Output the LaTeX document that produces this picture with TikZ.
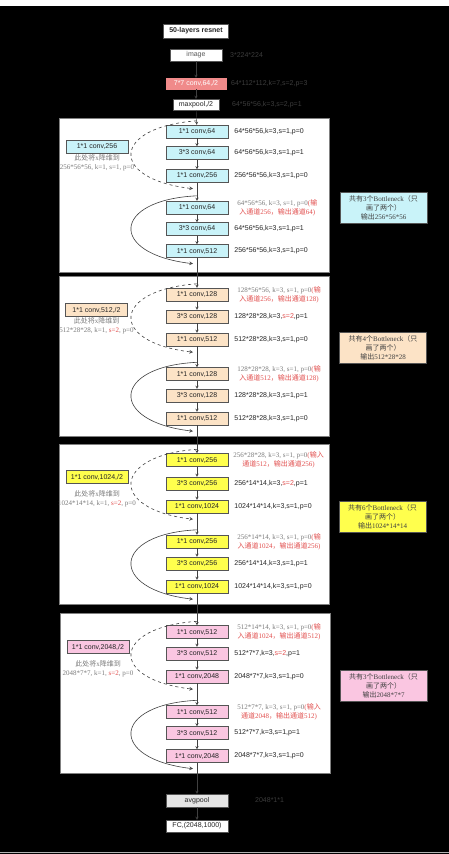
\documentclass[tikz,border=0pt]{standalone}
\usepackage{fontspec}
\setmainfont{Liberation Sans}
\newfontfamily\zhfont{Noto Sans CJK SC}
\newfontfamily\numfont{Liberation Serif}
\newcommand{\zh}[1]{{\zhfont #1}}
\newcommand{\rd}[1]{\textcolor{notered}{#1}}
\usetikzlibrary{positioning, arrows}
\definecolor{cyanfill}{HTML}{C9F3F9}
\definecolor{peachfill}{HTML}{FCE3C6}
\definecolor{yellowfill}{HTML}{FFFF4D}
\definecolor{pinkfill}{HTML}{FAC6E1}
\definecolor{convred}{HTML}{F08A8A}
\definecolor{notered}{HTML}{E2504F}
\definecolor{notegray}{HTML}{7C7C7C}
\definecolor{dimtext}{HTML}{3C3C3C}
\definecolor{framegray}{HTML}{555555}
\tikzset{
    layer/.style={draw=framegray, fill=white, minimum width=62pt, minimum height=13pt, inner sep=1pt, text=black!85, font=\fontsize{7}{8}\selectfont},
    info/.style={inner sep=0pt, text=black!85, font=\fontsize{7}{8}\selectfont},
    darkinfo/.style={info, anchor=west, text=dimtext},
    note/.style={inner sep=0pt, align=center, text=notegray, font={\numfont\fontsize{7}{9}\selectfont}},
    sumbox/.style={draw=framegray, minimum width=87pt, minimum height=31pt, inner sep=1pt, align=center, text=black!75, font={\numfont\fontsize{7}{9}\selectfont}},
    panel/.style={draw=gray, fill=white},
    skip/.style={draw=black!75, line width=0.6pt},
}
\begin{document}
\begin{tikzpicture}[x=1pt,y=1pt,>=stealth,node distance=6pt]
    \useasboundingbox (0,0) rectangle (449,-854);
    \fill[black] (0,0) rectangle (449,-854);
    \fill[white] (0,0) rectangle (449,-6);
    \draw[gray!60] (0,-852.5) -- (449,-852.5);
    % stem
    \node[layer, font=\fontsize{7}{8}\selectfont\bfseries, minimum width=65pt, minimum height=14pt] (title) at (196,-31) {50-layers resnet};
    \node[layer, minimum width=52pt, minimum height=12pt, text=black!65] (img) at (196,-55) {image};
    \node[layer, fill=convred, draw=convred, minimum width=60pt, minimum height=11pt, text=white] (conv1) at (196,-83.5) {7*7 conv,64,/2};
    \node[layer, minimum width=46pt, minimum height=11pt] (pool) at (196,-104.5) {maxpool,/2};
    \node[darkinfo] at (230,-55) {3*224*224};
    \node[darkinfo] at (231,-83.5) {64*112*112,k=7,s=2,p=3};
    \node[darkinfo] at (232,-104.5) {64*56*56,k=3,s=2,p=1};
    % panels
    \draw[panel] (59,-118) rectangle (329,-272);
    \draw[panel] (59,-276) rectangle (329,-436);
    \draw[panel] (59,-444) rectangle (329,-604);
    \draw[panel] (60,-613) rectangle (330,-773);
    % conv2_x
    \node[layer, fill=cyanfill] (b11) at (197,-131.5) {1*1 conv,64};
    \node[layer, fill=cyanfill] (b12) at (197,-153) {3*3 conv,64};
    \node[layer, fill=cyanfill] (b13) at (197,-176) {1*1 conv,256};
    \node[layer, fill=cyanfill] (b14) at (197,-207.5) {1*1 conv,64};
    \node[layer, fill=cyanfill] (b15) at (197,-229) {3*3 conv,64};
    \node[layer, fill=cyanfill] (b16) at (197,-251) {1*1 conv,512};
    \node[info, right=of b11] {64*56*56,k=3,s=1,p=0};
    \node[info, right=of b12] {64*56*56,k=3,s=1,p=1};
    \node[info, right=of b13] {256*56*56,k=3,s=1,p=0};
    \node[note, right=9pt of b14] {64*56*56, k=3, s=1, p=0\rd{(\zh{输}}\\\rd{\zh{入通道}256\zh{，输出通道}64)}};
    \node[info, right=of b15] {64*56*56,k=3,s=1,p=1};
    \node[info, right=of b16] {256*56*56,k=3,s=1,p=0};
    \node[layer, fill=cyanfill] (ds1) at (97,-146.5) {1*1 conv,256};
    \node[note, below=1pt of ds1] {\zh{此处将}x\zh{降维到}\\256*56*56, k=1, s=1, p=0};
    \node[sumbox, fill=cyanfill] (sum1) at (383.5,-207.5) {\zh{共有}3\zh{个}Bottleneck\zh{（只}\\\zh{画了两个）}\\\zh{输出}256*56*56};
    % conv3_x
    \node[layer, fill=peachfill] (b21) at (197,-294.5) {1*1 conv,128};
    \node[layer, fill=peachfill] (b22) at (197,-316.5) {3*3 conv,128};
    \node[layer, fill=peachfill] (b23) at (197,-339.5) {1*1 conv,512};
    \node[layer, fill=peachfill] (b24) at (197,-374) {1*1 conv,128};
    \node[layer, fill=peachfill] (b25) at (197,-395.5) {3*3 conv,128};
    \node[layer, fill=peachfill] (b26) at (197,-418.5) {1*1 conv,512};
    \node[note, right=9pt of b21] {128*56*56, k=3, s=1, p=0\rd{(\zh{输}}\\\rd{\zh{入通道}256\zh{，输出通道}128)}};
    \node[info, right=of b22] {128*28*28,k=3,\rd{s=2},p=1};
    \node[info, right=of b23] {512*28*28,k=3,s=1,p=0};
    \node[note, right=9pt of b24] {128*28*28, k=3, s=1, p=0\rd{(\zh{输}}\\\rd{\zh{入通道}512\zh{，输出通道}128)}};
    \node[info, right=of b25] {128*28*28,k=3,s=1,p=1};
    \node[info, right=of b26] {512*28*28,k=3,s=1,p=0};
    \node[layer, fill=peachfill] (ds2) at (96.5,-310) {1*1 conv,512,/2};
    \node[note, below=1pt of ds2] {\zh{此处将}x\zh{降维到}\\512*28*28, k=1, \rd{s=2}, p=0};
    \node[sumbox, fill=peachfill] (sum2) at (383,-348) {\zh{共有}4\zh{个}Bottleneck\zh{（只}\\\zh{画了两个）}\\\zh{输出}512*28*28};
    % conv4_x
    \node[layer, fill=yellowfill] (b31) at (197,-460) {1*1 conv,256};
    \node[layer, fill=yellowfill] (b32) at (197,-483.5) {3*3 conv,256};
    \node[layer, fill=yellowfill] (b33) at (197,-506.5) {1*1 conv,1024};
    \node[layer, fill=yellowfill] (b34) at (197,-541.5) {1*1 conv,256};
    \node[layer, fill=yellowfill] (b35) at (197,-563.5) {3*3 conv,256};
    \node[layer, fill=yellowfill] (b36) at (197,-586.5) {1*1 conv,1024};
    \node[note, right=5pt of b31] {256*28*28, k=3, s=1, p=0\rd{(\zh{输入}}\\\rd{\zh{通道}512\zh{，输出通道}256)}};
    \node[info, right=of b32] {256*14*14,k=3,\rd{s=2},p=1};
    \node[info, right=of b33] {1024*14*14,k=3,s=1,p=0};
    \node[note, right=9pt of b34] {256*14*14, k=3, s=1, p=0\rd{(\zh{输}}\\\rd{\zh{入通道}1024\zh{，输出通道}256)}};
    \node[info, right=of b35] {256*14*14,k=3,s=1,p=1};
    \node[info, right=of b36] {1024*14*14,k=3,s=1,p=0};
    \node[layer, fill=yellowfill] (ds3) at (97,-477) {1*1 conv,1024,/2};
    \node[note, below=7pt of ds3] {\zh{此处将}x\zh{降维到}\\1024*14*14, k=1, \rd{s=2}, p=0};
    \node[sumbox, fill=yellowfill] (sum3) at (382.5,-516.5) {\zh{共有}6\zh{个}Bottleneck\zh{（只}\\\zh{画了两个）}\\\zh{输出}1024*14*14};
    % conv5_x
    \node[layer, fill=pinkfill] (b41) at (197,-632) {1*1 conv,512};
    \node[layer, fill=pinkfill] (b42) at (197,-653.5) {3*3 conv,512};
    \node[layer, fill=pinkfill] (b43) at (197,-676.5) {1*1 conv,2048};
    \node[layer, fill=pinkfill] (b44) at (197,-712) {1*1 conv,512};
    \node[layer, fill=pinkfill] (b45) at (197,-733) {3*3 conv,512};
    \node[layer, fill=pinkfill] (b46) at (197,-756) {1*1 conv,2048};
    \node[note, right=9pt of b41] {512*14*14, k=3, s=1, p=0\rd{(\zh{输}}\\\rd{\zh{入通道}1024\zh{，输出通道}512)}};
    \node[info, right=of b42] {512*7*7,k=3,\rd{s=2},p=1};
    \node[info, right=of b43] {2048*7*7,k=3,s=1,p=0};
    \node[note, right=9pt of b44] {512*7*7, k=3, s=1, p=0\rd{(\zh{输入}}\\\rd{\zh{通道}2048\zh{，输出通道}512)}};
    \node[info, right=of b45] {512*7*7,k=3,s=1,p=1};
    \node[info, right=of b46] {2048*7*7,k=3,s=1,p=0};
    \node[layer, fill=pinkfill] (ds4) at (98,-647) {1*1 conv,2048,/2};
    \node[note, below=7pt of ds4] {\zh{此处将}x\zh{降维到}\\2048*7*7, k=1, \rd{s=2}, p=0};
    \node[sumbox, fill=pinkfill] (sum4) at (383.5,-686) {\zh{共有}3\zh{个}Bottleneck\zh{（只}\\\zh{画了两个）}\\\zh{输出}2048*7*7};
    % head
    \node[layer, fill=black!10] (avg) at (197,-800.5) {avgpool};
    \node[layer, minimum height=12pt] (fc) at (197,-826) {FC,(2048,1000)};
    \node[darkinfo] at (255,-800.5) {2048*1*1};
    % main line
    \foreach \a/\b in {img/conv1, conv1/pool, pool/b11, b11/b12, b12/b13, b13/b14, b14/b15, b15/b16,
        b16/b21, b21/b22, b22/b23, b23/b24, b24/b25, b25/b26,
        b26/b31, b31/b32, b32/b33, b33/b34, b34/b35, b35/b36,
        b36/b41, b41/b42, b42/b43, b43/b44, b44/b45, b45/b46, b46/avg, avg/fc}
        \draw[->, black!75] (\a) -- (\b);
    % shortcuts
    \foreach \p in {1,2,3,4} {
        \draw[skip, dashed, ->] ([yshift=4pt]b\p1.north) .. controls +(-85,-6) and +(-85,10) .. ([xshift=-4pt,yshift=-6pt]b\p3.south);
        \draw[skip, ->] ([yshift=5pt]b\p4.north) .. controls +(-85,-4) and +(-85,10) .. ([xshift=-4pt,yshift=-6pt]b\p6.south);
    }
\end{tikzpicture}
\end{document}
